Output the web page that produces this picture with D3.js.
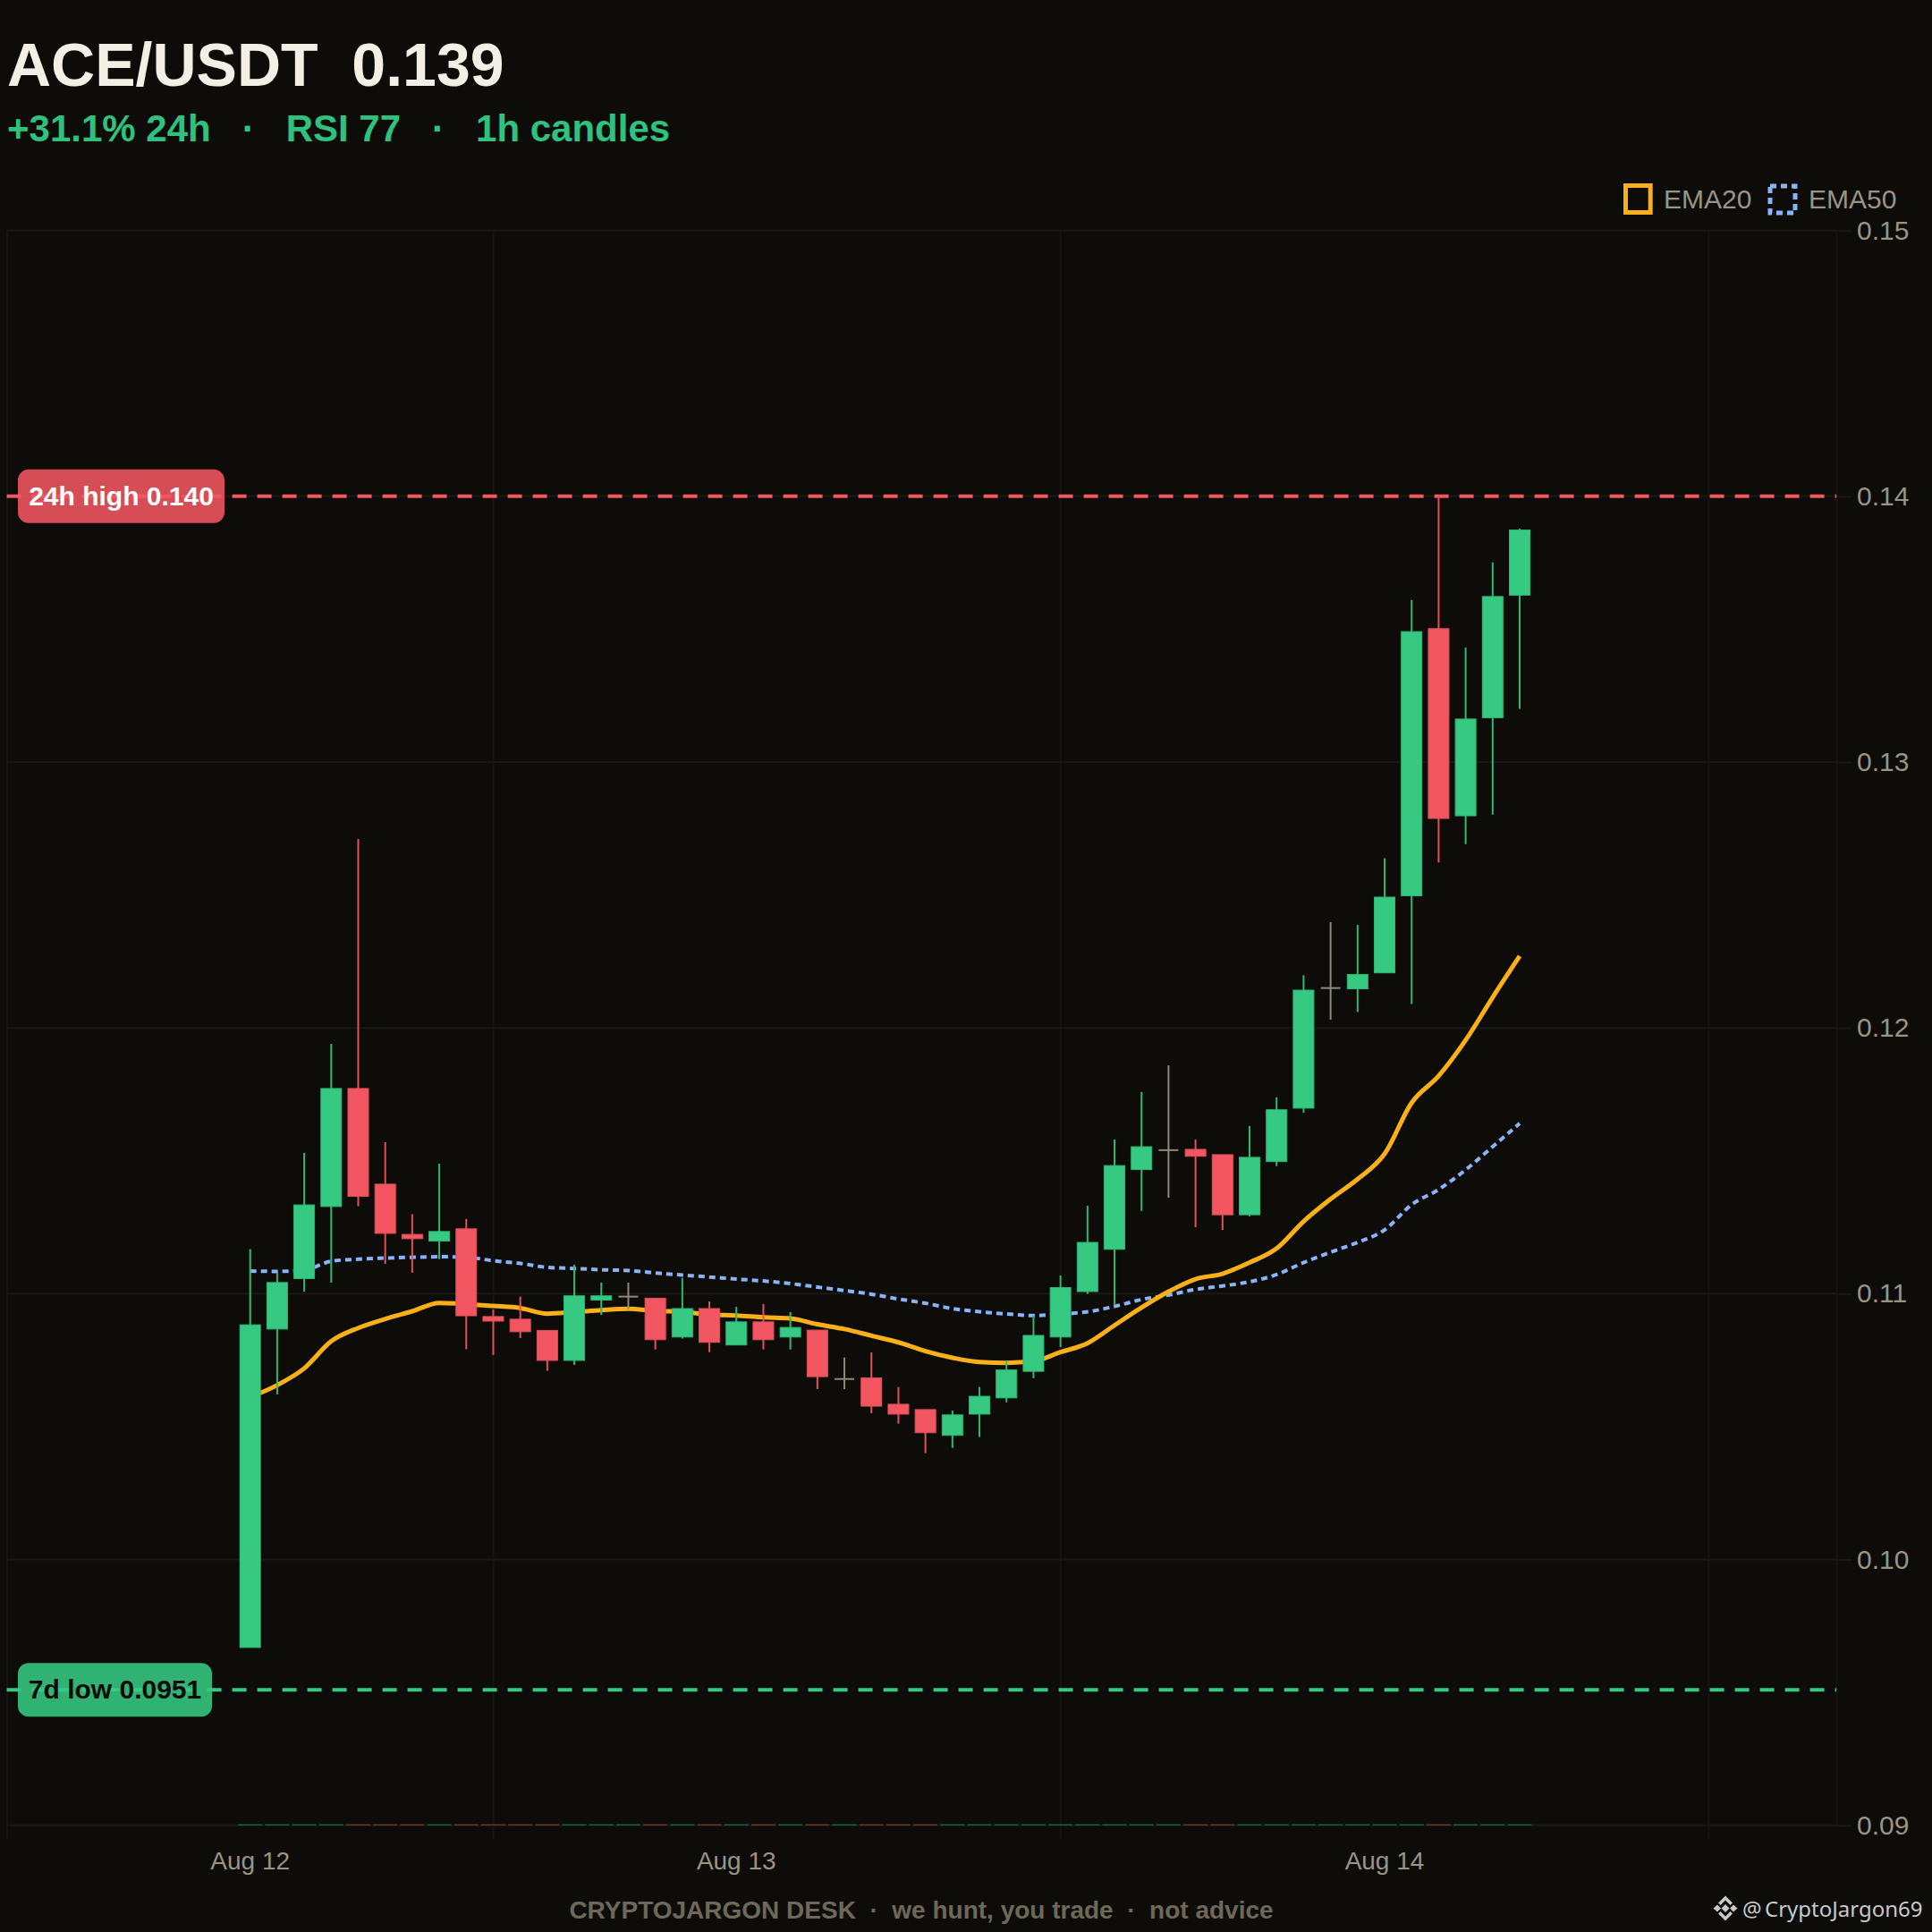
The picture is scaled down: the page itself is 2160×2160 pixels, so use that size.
<!DOCTYPE html>
<html><head><meta charset="utf-8">
<script src="https://cdn.jsdelivr.net/npm/d3@7/dist/d3.min.js"></script>
<style>html,body{margin:0;padding:0;background:#0d0c08}svg{display:block}text{white-space:pre}</style>
</head><body><div id="c"></div>
<script>
const opens=[.09669,.10867,.11057,.11328,.11772,.11412,.11223,.11198,.11244,.10914,.10904,.10862,.10749,.10976,.10989,.10983,.10837,.10944,.10807,.10894,.10837,.10863,.10679,.10683,.10584,.10564,.10467,.10547,.10608,.10708,.10837,.11008,.11167,.11467,.11540,.11543,.11523,.11297,.11497,.11698,.12150,.12147,.12207,.12497,.13502,.12798,.13167,.13628];
const closes=[.10883,.11042,.11334,.11772,.11366,.11227,.11207,.11234,.10917,.10897,.10857,.10749,.10992,.10992,.10989,.10827,.10944,.10817,.10894,.10827,.10873,.10688,.10679,.10577,.10547,.10477,.10544,.10614,.10713,.10843,.11023,.11193,.11482,.11553,.11540,.11517,.11297,.11513,.11692,.12142,.12150,.12201,.12492,.13491,.12788,.13162,.13623,.13873];
const highs=[.11168,.11079,.11530,.11940,.12711,.11570,.11299,.11489,.11281,.10941,.10989,.10862,.11109,.11042,.11042,.10983,.11059,.10971,.10951,.10961,.10931,.10863,.10760,.10779,.10649,.10564,.10560,.10649,.10749,.10918,.11069,.11331,.11580,.11759,.11859,.11580,.11523,.11631,.11739,.12198,.12398,.12388,.12638,.13610,.14000,.13431,.13751,.13878];
const lows=[.09669,.10621,.11008,.11042,.11329,.11112,.11079,.11130,.10791,.10769,.10833,.10710,.10732,.10920,.10941,.10790,.10831,.10780,.10807,.10790,.10790,.10641,.10641,.10550,.10511,.10400,.10420,.10461,.10591,.10682,.10799,.10999,.10958,.11311,.11361,.11250,.11240,.11291,.11480,.11681,.12031,.12060,.12207,.12090,.12622,.12691,.12802,.13200];
const ema20=[.10611,.10656,.10719,.10821,.10871,.10905,.10934,.10965,.10961,.10954,.10946,.10925,.10931,.10938,.10943,.10935,.10932,.10921,.10918,.10911,.10907,.10885,.10867,.10842,.10817,.10784,.10759,.10743,.10740,.10746,.10780,.10814,.10881,.10948,.11008,.11055,.11075,.11117,.11170,.11272,.11356,.11431,.11526,.11718,.11819,.11954,.12115,.12270];
const ema50=[.11085,.11084,.11089,.11122,.11130,.11134,.11137,.11139,.11137,.11124,.11114,.11099,.11095,.11090,.11087,.11078,.11070,.11063,.11055,.11048,.11038,.11025,.11012,.10998,.10980,.10964,.10944,.10932,.10924,.10918,.10923,.10932,.10952,.10978,.10995,.11016,.11029,.11045,.11072,.11117,.11156,.11193,.11240,.11335,.11392,.11466,.11553,.11641];
const priceTicks=[.09,.10,.11,.12,.13,.14,.15];
const dayLabels=["Aug 12","Aug 13","Aug 14"];
const dayLabelIdx=[0,18,42];
const gridIdx=[-9,9,30,54];
const levelHigh=.14, levelLow=.0951;

const GREEN="#35c981",RED="#f25661",DOJI="#8f8979",MUTED="#9a9485",GRID="#191814",GRIDV="#161511";
const FONT="'Liberation Sans',Arial,sans-serif";
const W=2160;
const svg=d3.select("#c").append("svg").attr("width",W).attr("height",W).attr("viewBox",`0 0 ${W} ${W}`).style("font-family",FONT);
svg.append("rect").attr("width",W).attr("height",W).attr("fill","#0d0c08");
const y=d3.scaleLinear().domain([.09,.15]).range([2040.7,257.7]);
const x=d3.scaleLinear().domain([0,47]).range([279.7,1699]);
const PR=2053,PL=7.6;

// grid + axes
svg.append("g").selectAll("line").data(gridIdx).join("line")
 .attr("x1",d=>x(d)).attr("x2",d=>x(d)).attr("y1",y(.15)).attr("y2",2056).attr("stroke",GRIDV).attr("stroke-width",2);
const gAxisY=svg.append("g").attr("transform",`translate(${PR},0)`)
 .call(d3.axisRight(y).tickValues(priceTicks).tickFormat(d3.format(".2f")).tickSize(17).tickPadding(6));
gAxisY.select(".domain").attr("stroke",GRIDV).attr("stroke-width",2);
gAxisY.selectAll("line").attr("stroke",GRID).attr("stroke-width",2);
gAxisY.selectAll("text").attr("fill",MUTED).attr("font-size",30).attr("font-family",FONT);
svg.append("g").selectAll("line").data(priceTicks).join("line")
 .attr("x1",PL).attr("x2",PR).attr("y1",d=>y(d)).attr("y2",d=>y(d)).attr("stroke",GRID).attr("stroke-width",2);
svg.append("g").selectAll("text").data(dayLabels).join("text")
 .attr("x",(d,i)=>x(dayLabelIdx[i])).attr("y",2090).attr("text-anchor","middle")
 .attr("fill",MUTED).attr("font-size",28).text(d=>d);

// indexes
const idx=d3.range(opens.length);
// flat volume strip
svg.append("g").selectAll("line").data(idx).join("line")
 .attr("x1",i=>x(i)-13.5).attr("x2",i=>x(i)+13.5).attr("y1",y(.09)-.5).attr("y2",y(.09)-.5)
 .attr("stroke",i=>closes[i]>=opens[i]?"#14634a":"#6e3424").attr("stroke-width",1.5);

// levels
svg.append("line").attr("x1",PL).attr("x2",PR).attr("y1",y(levelHigh)).attr("y2",y(levelHigh))
 .attr("stroke",RED).attr("stroke-width",4).attr("stroke-dasharray","16 12");
svg.append("line").attr("x1",PL).attr("x2",PR).attr("y1",y(levelLow)).attr("y2",y(levelLow))
 .attr("stroke",GREEN).attr("stroke-width",4).attr("stroke-dasharray","16 12");

// EMA
const ln=d3.line().x((d,i)=>x(i)).y(d=>y(d)).curve(d3.curveMonotoneX);
svg.append("path").attr("d",ln(ema50)).attr("fill","none").attr("stroke","#8ab4f8").attr("stroke-width",4).attr("stroke-dasharray","7 5");
svg.append("path").attr("d",ln(ema20)).attr("fill","none").attr("stroke","#fbb017").attr("stroke-width",5);

// candles
const col=i=>opens[i]===closes[i]?DOJI:(closes[i]>opens[i]?GREEN:RED);
const wickCol=i=>opens[i]===closes[i]?DOJI:(closes[i]>opens[i]?"#2eb877":"#e2505a");
svg.append("g").selectAll("line").data(idx).join("line")
 .attr("x1",i=>x(i)).attr("x2",i=>x(i)).attr("y1",i=>y(highs[i])).attr("y2",i=>y(lows[i]))
 .attr("stroke",wickCol).attr("stroke-width",2);
svg.append("g").selectAll("rect").data(idx.filter(i=>opens[i]!==closes[i])).join("rect")
 .attr("x",i=>x(i)-11.5).attr("width",23)
 .attr("y",i=>y(Math.max(opens[i],closes[i]))).attr("height",i=>Math.abs(y(opens[i])-y(closes[i])))
 .attr("fill",col).attr("stroke",wickCol).attr("stroke-width",1);
svg.append("g").selectAll("line").data(idx.filter(i=>opens[i]===closes[i])).join("line")
 .attr("x1",i=>x(i)-11).attr("x2",i=>x(i)+11).attr("y1",i=>y(opens[i])).attr("y2",i=>y(opens[i]))
 .attr("stroke",DOJI).attr("stroke-width",2);

// badges
function badge(text,val,w,fill,color){
 const cy=y(val);
 svg.append("rect").attr("x",20).attr("y",cy-30).attr("width",w).attr("height",60).attr("rx",12).attr("fill",fill).attr("fill-opacity",.88);
 svg.append("text").attr("x",20+w/2).attr("y",cy+10).attr("text-anchor","middle").attr("font-size",30).attr("font-weight",700).attr("fill",color).text(text);
}
badge("24h high 0.140",levelHigh,231,RED,"#ffffff");
badge("7d low 0.0951",levelLow,217,GREEN,"#0c0b07");

// title
svg.append("text").attr("x",8).attr("y",96).attr("font-size",68).attr("font-weight",700).attr("fill","#f4efe5").text("ACE/USDT  0.139");
svg.append("text").attr("x",8).attr("y",158).attr("font-size",42).attr("font-weight",700).attr("fill","#2fc27e").text("+31.1% 24h   ·   RSI 77   ·   1h candles");

// legend
svg.append("rect").attr("x",1817.5).attr("y",207.5).attr("width",27.7).attr("height",30).attr("fill","none").attr("stroke","#fbb017").attr("stroke-width",5);
svg.append("rect").attr("x",1979).attr("y",208).attr("width",28).attr("height",30).attr("fill","none").attr("stroke","#8ab4f8").attr("stroke-width",5).attr("stroke-dasharray","7 5");
svg.append("text").attr("x",1860).attr("y",233).attr("font-size",30).attr("fill",MUTED).text("EMA20");
svg.append("text").attr("x",2022).attr("y",233).attr("font-size",30).attr("fill",MUTED).text("EMA50");

// footer
svg.append("text").attr("x",1030).attr("y",2145).attr("text-anchor","middle").attr("font-size",28).attr("font-weight",700).attr("fill","#6e6858").text("CRYPTOJARGON DESK  ·  we hunt, you trade  ·  not advice");

// watermark
const wm=svg.append("g").attr("transform","translate(1929,2133.5)").attr("fill","#c9c9c9");
wm.append("path").attr("d","M0,-4.5L4.5,0L0,4.5L-4.5,0Z M-9,-4L-5,0L-9,4L-13.5,0Z M9,-4L13.5,0L9,4L5,0Z M0,-14L8,-6L5.5,-3.5L0,-9L-5.5,-3.5L-8,-6Z M0,14L8,6L5.5,3.5L0,9L-5.5,3.5L-8,6Z");
svg.append("text").attr("x",1948).attr("y",2143).attr("font-size",24).attr("font-family","'Noto Sans',sans-serif").attr("fill","#c9c9c9").text("@");
svg.append("text").attr("x",1973).attr("y",2143).attr("font-size",24).attr("font-family","'Noto Sans',sans-serif").attr("fill","#c9c9c9").text("CryptoJargon69");
</script></body></html>
